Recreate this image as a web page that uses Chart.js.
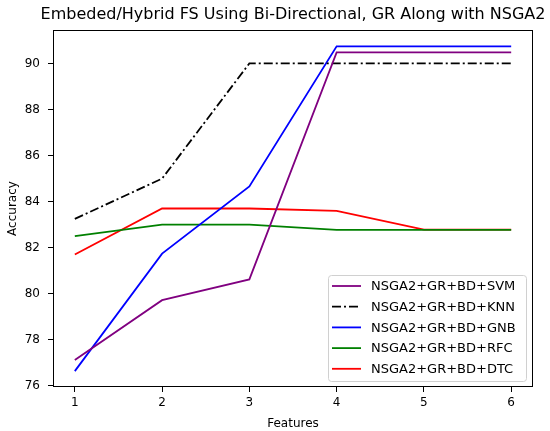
<!DOCTYPE html>
<html>
<head>
<meta charset="utf-8">
<script src="https://cdn.jsdelivr.net/npm/chart.js@4"></script>
<style>
  html, body { margin: 0; padding: 0; background: #fff; }
  #wrap { width: 550px; height: 431px; }
</style>
</head>
<body>
<div id="wrap"><canvas id="accChart"></canvas></div>
<script>
// --- data ---
const features = [1, 2, 3, 4, 5, 6];
const svm = [77.12, 79.72, 80.62, 90.48, 90.48, 90.48];
const knn = [83.25, 85.0, 90.0, 90.0, 90.0, 90.0];
const gnb = [76.64, 81.74, 84.66, 90.74, 90.74, 90.74];
const rfc = [82.5, 83.0, 83.0, 82.77, 82.77, 82.77];
const dtc = [81.7, 83.7, 83.7, 83.6, 82.78, 82.78];
const seriesNames = ['NSGA2+GR+BD+SVM', 'NSGA2+GR+BD+KNN', 'NSGA2+GR+BD+GNB', 'NSGA2+GR+BD+RFC', 'NSGA2+GR+BD+DTC'];
const yTicks = [76, 78, 80, 82, 84, 86, 88, 90];
const xTicks = [1, 2, 3, 4, 5, 6];

const FONT = "'DejaVu Sans', sans-serif";

function toPoints(vals) {
    return features.map((f, i) => ({ x: f, y: vals[i] }));
}

function makeSet(label, vals, color, dash) {
    return {
        label: label,
        data: toPoints(vals),
        borderColor: color,
        backgroundColor: color,
        borderWidth: 1.8,
        borderDash: dash || [],
        pointRadius: 0,
        tension: 0,
        fill: false
    };
}

// frame, title and in-plot legend, drawn the matplotlib way
const framePlugin = {
    id: 'frame',
    afterDraw(chart) {
        const ctx = chart.ctx;
        const a = chart.chartArea;
        ctx.save();
        ctx.strokeStyle = '#000';
        ctx.lineWidth = 1;
        ctx.strokeRect(a.left + 0.5, a.top + 0.5, a.right - a.left - 1, a.bottom - a.top - 1);

        // title
        ctx.fillStyle = '#000';
        ctx.font = '16px ' + FONT;
        ctx.textAlign = 'center';
        ctx.textBaseline = 'middle';
        ctx.fillText('Embeded/Hybrid FS Using Bi-Directional, GR Along with NSGA2', (a.left + a.right) / 2, 15);

        // legend box
        const bx = 328.5, by = 275.5, bw = 198, bh = 106;
        ctx.fillStyle = 'rgba(255,255,255,0.8)';
        ctx.strokeStyle = '#d0d0d0';
        ctx.lineWidth = 1;
        ctx.beginPath();
        ctx.roundRect(bx, by, bw, bh, 3);
        ctx.fill();
        ctx.stroke();

        ctx.font = '13px ' + FONT;
        ctx.textAlign = 'left';
        chart.data.datasets.forEach((ds, i) => {
            const cy = 286 + i * 20.7;
            ctx.strokeStyle = ds.borderColor;
            ctx.lineWidth = ds.borderWidth;
            ctx.setLineDash(ds.borderDash);
            ctx.beginPath();
            ctx.moveTo(332, cy);
            ctx.lineTo(361, cy);
            ctx.stroke();
            ctx.setLineDash([]);
            ctx.fillStyle = '#000';
            ctx.fillText(ds.label, 371, cy + 1);
        });
        ctx.restore();
    }
};

new Chart(document.getElementById('accChart'), {
    type: 'line',
    data: {
        datasets: [
            makeSet(seriesNames[0], svm, '#800080'),
            makeSet(seriesNames[1], knn, '#000000', [9, 3, 2, 3]),
            makeSet(seriesNames[2], gnb, '#0000ff'),
            makeSet(seriesNames[3], rfc, '#008000'),
            makeSet(seriesNames[4], dtc, '#ff0000')
        ]
    },
    options: {
        responsive: true,
        maintainAspectRatio: false,
        animation: false,
        layout: { padding: { top: 30, right: 17, left: 0, bottom: 0 } },
        plugins: {
            legend: { display: false },
            title: { display: false },
            tooltip: { enabled: false }
        },
        scales: {
            x: {
                type: 'linear',
                min: 0.75,
                max: 6.25,
                afterBuildTicks: (scale) => { scale.ticks = xTicks.map(v => ({ value: v })); },
                afterFit: (scale) => { scale.height = 44; },
                grid: { drawOnChartArea: false, tickLength: 5, color: '#000', tickColor: '#000' },
                border: { display: false },
                ticks: { color: '#000', font: { family: FONT, size: 12 }, padding: 4, maxRotation: 0 },
                title: { display: true, text: 'Features', color: '#000', font: { family: FONT, size: 12 }, padding: { top: 2, bottom: 0 } }
            },
            y: {
                min: 75.95,
                max: 91.45,
                afterBuildTicks: (scale) => { scale.ticks = yTicks.map(v => ({ value: v })); },
                afterFit: (scale) => { scale.width = 53; },
                grid: { drawOnChartArea: false, tickLength: 5, color: '#000', tickColor: '#000' },
                border: { display: false },
                ticks: { color: '#000', font: { family: FONT, size: 12 }, padding: 8 },
                title: { display: true, text: 'Accuracy', color: '#000', font: { family: FONT, size: 12 }, padding: { top: 6, bottom: 0 } }
            }
        }
    },
    plugins: [framePlugin]
});
</script>
</body>
</html>
